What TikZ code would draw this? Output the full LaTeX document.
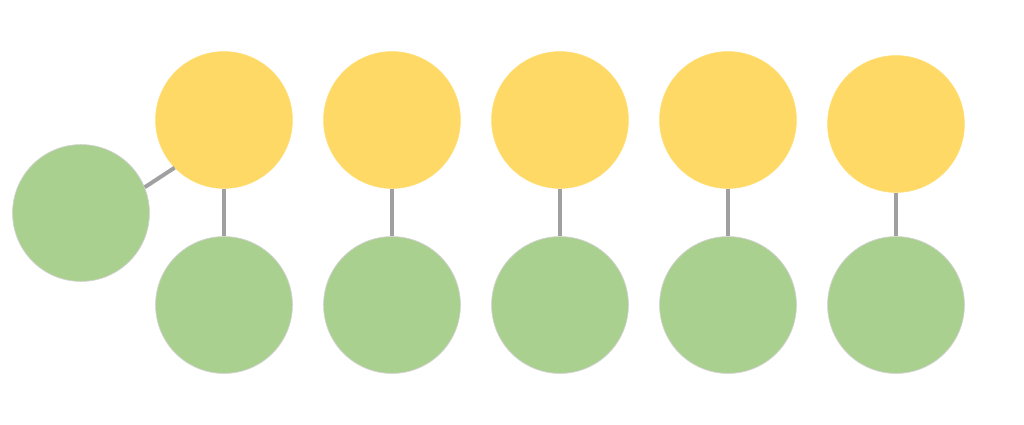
\documentclass[tikz,border=0pt]{standalone}
\usepackage{tikz}
\definecolor{ballyellow}{HTML}{FFD966}
\definecolor{ballgreen}{HTML}{A9D08E}
\definecolor{linkgray}{HTML}{A0A0A0}

\begin{document}
\begin{tikzpicture}[x=0.025cm, y=-0.025cm,
    yball/.style={circle, fill=ballyellow, draw=ballyellow!90!white, line width=0.4pt, minimum size=3.42cm, inner sep=0pt},
    gball/.style={circle, fill=ballgreen, draw=gray!35, line width=0.5pt, minimum size=3.42cm, inner sep=0pt},
    link/.style={draw=linkgray, line width=2.8pt}]
    \useasboundingbox (0,0) rectangle (1024,425);

    \node[gball] (g0) at (81,213) {};

    \node[yball] (y1) at (224,120) {};
    \node[yball] (y2) at (392,120) {};
    \node[yball] (y3) at (560,120) {};
    \node[yball] (y4) at (728,120) {};
    \node[yball] (y5) at (896,124) {};

    \node[gball] (g1) at (224,305) {};
    \node[gball] (g2) at (392,305) {};
    \node[gball] (g3) at (560,305) {};
    \node[gball] (g4) at (728,305) {};
    \node[gball] (g5) at (896,305) {};

    \draw[link] (g0.22) -- (y1.224);
    \draw[link] (y1.south) -- (g1.north);
    \draw[link] (y2.south) -- (g2.north);
    \draw[link] (y3.south) -- (g3.north);
    \draw[link] (y4.south) -- (g4.north);
    \draw[link] (y5.south) -- (g5.north);
\end{tikzpicture}
\end{document}
